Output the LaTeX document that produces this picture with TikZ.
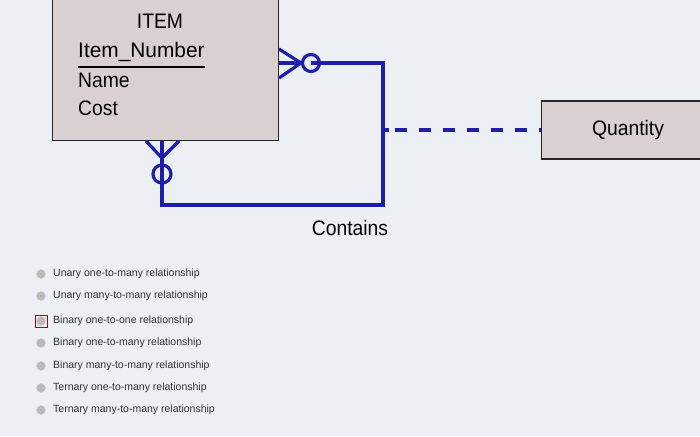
\documentclass[tikz,border=0pt]{standalone}
\usepackage{fontspec}
\setmainfont{Liberation Sans}
\definecolor{bg}{RGB}{236,239,243}
\definecolor{entfill}{RGB}{218,208,209}
\definecolor{relblue}{RGB}{30,30,170}
\begin{document}
\begin{tikzpicture}[x=1pt,y=-1pt,
  ent/.style={draw=black!85,line width=1.3pt,fill=entfill},
  rel/.style={draw=relblue,line width=3.2pt},
  big/.style={font=\fontsize{21}{23}\selectfont,inner sep=0pt,xscale=0.92,transform shape},
  opt/.style={font=\fontsize{10.5}{12}\selectfont,anchor=west,inner sep=0pt,text=black!80},
  rad/.style={circle,fill=gray!55,draw=gray!40,minimum size=9pt,inner sep=0pt}]
\fill[bg] (0,0) rectangle (700,436);
\useasboundingbox (0,0) rectangle (700,436);
\node[ent,minimum width=226pt,minimum height=142pt,anchor=north west] (item) at (52,-2) {};
\node[big] (t1) at (160,21) {ITEM};
\node[big,anchor=west,xscale=1.08] (t2) at (78,52) {Item\_Number};
\draw[line width=1.2pt] (78,67) -- (205,67);
\node[big,anchor=west] (t3) at (78,80) {Name};
\node[big,anchor=west] (t4) at (78,108) {Cost};
\node[ent,minimum width=162pt,minimum height=58pt,anchor=west] (qty) at (541,130) {};
\node[big] (q) at (628,130) {Quantity};
\node[big] (con) at (350,228) {Contains};
\coordinate (r1) at (278,63);
\coordinate (c1) at (383,63);
\coordinate (c2) at (383,205);
\coordinate (c3) at (162,205);
\coordinate (b1) at (162,141);
\draw[rel] (r1) -- (c1) -- (c2) -- (c3) -- (b1);
\draw[rel] (279,49) -- (301,63) -- (279,78);
\draw[rel,fill=bg] (311,63) circle (8.5);
\draw[rel] (311,63) -- (330,63);
\draw[rel] (146,141) -- (162,158) -- (179,141);
\draw[rel,fill=bg] (162,174) circle (9);
\draw[rel] (162,160) -- (162,190);
\coordinate (d1) at (383,130);
\draw[rel,dash pattern=on 12pt off 12pt] (395,130) -- (qty.west);
\draw[rel] (d1) -- (389,130);
\foreach \y/\t [count=\i] in {274/Unary one-to-many relationship,296/Unary many-to-many relationship,321/Binary one-to-one relationship,343/Binary one-to-many relationship,366/Binary many-to-many relationship,388/Ternary one-to-many relationship,410/Ternary many-to-many relationship}{
  \node[rad] (rb\i) at (41,\y) {};
  \node[opt] (ro\i) at (53,\y) {\t};
}
\draw[red!70!black,line width=1pt] (35,315) rectangle (47,327);
\end{tikzpicture}
\end{document}
